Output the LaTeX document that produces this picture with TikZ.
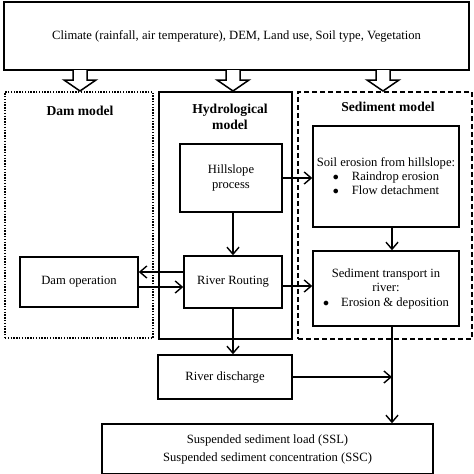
\documentclass[tikz,border=0pt]{standalone}
\usepackage{fontspec}
\setmainfont{Liberation Serif}
\usetikzlibrary{arrows.meta}

\tikzset{
    box/.style={draw, line width=1.5pt, align=center, inner sep=2pt, font=\fontsize{12.6}{15}\selectfont},
    title/.style={align=center, font=\fontsize{13.6}{16}\selectfont\bfseries},
    link/.style={line width=1.4pt, -{Straight Barb[length=7pt,width=12pt]}}
}

\begin{document}
\begin{tikzpicture}[x=1pt,y=-1pt]
            \useasboundingbox (0,0) rectangle (474,474);
            % inputs
            \node[box, minimum width=465, minimum height=68] (inputs) at (236.5,36)
                {Climate (rainfall, air temperature), DEM, Land use, Soil type, Vegetation};
            \foreach \x in {80,233,383}
                \draw[line width=1.5pt, fill=white] (\x-7,70) -- (\x-7,80) -- (\x-16,80) -- (\x,91)
                    -- (\x+16,80) -- (\x+7,80) -- (\x+7,70);
            % the three models
            \node[draw, line width=1.5pt, dash pattern=on 1.4pt off 1.4pt, minimum width=148, minimum height=246] (dam) at (79,215) {};
            \node[draw, line width=1.5pt, minimum width=133, minimum height=247] (hydro) at (225.5,215.5) {};
            \node[draw, line width=1.5pt, dash pattern=on 5pt off 3pt, minimum width=174, minimum height=247] (sediment) at (385,215.5) {};
            \node[title] (damtitle) at (80,111) {Dam model};
            \node[title] (hydrotitle) at (230,117) {Hydrological\\model};
            \node[title] (sedtitle) at (388,107) {Sediment model};
            % boxes
            \node[box, minimum width=102, minimum height=68] (hill) at (231,178) {Hillslope\\process};
            \node[box, minimum width=98, minimum height=52] (routing) at (233,282) {River Routing};
            \node[box, minimum width=118, minimum height=50] (damop) at (79,282) {Dam operation};
            \node[box, minimum width=146, minimum height=101, font=\fontsize{12.6}{14}\selectfont] (soil) at (386,176.5)
                {Soil erosion from hillslope:\\
                 $\bullet$\hspace{13pt}Raindrop erosion\\
                 $\bullet$\hspace{13pt}Flow detachment};
            \node[box, minimum width=146, minimum height=75, font=\fontsize{12.6}{14.5}\selectfont] (transport) at (386,288.5)
                {Sediment transport in\\ river:\\
                 $\bullet$\hspace{12pt}Erosion \& deposition};
            \node[box, minimum width=134, minimum height=44] (discharge) at (225,377) {River discharge};
            \node[box, minimum width=331, minimum height=50, font=\fontsize{12.6}{18}\selectfont] (output) at (267.5,449)
                {Suspended sediment load (SSL)\\Suspended sediment concentration (SSC)};
            % connectors
            \coordinate (sedline) at (392,0);
            \draw[link] (hill.south -| routing.north) -- (routing.north);
            \draw[link] (hill.east) -- (hill.east -| soil.west);
            \draw[link] ([yshift=10pt]routing.west) -- ([yshift=10pt]damop.east);
            \draw[link] ([yshift=-5pt]damop.east) -- ([yshift=-5pt]routing.west);
            \draw[link] ([yshift=-4pt]routing.east) -- ([yshift=-4pt]routing.east -| transport.west);
            \draw[link] (soil.south -| sedline) -- (transport.north -| sedline);
            \draw[link] (routing.south) -- (discharge.north -| routing.south);
            \draw[link] (transport.south -| sedline) -- (output.north -| sedline);
            \draw[link] (discharge.east) -- (discharge.east -| sedline);
        \end{tikzpicture}
\end{document}
